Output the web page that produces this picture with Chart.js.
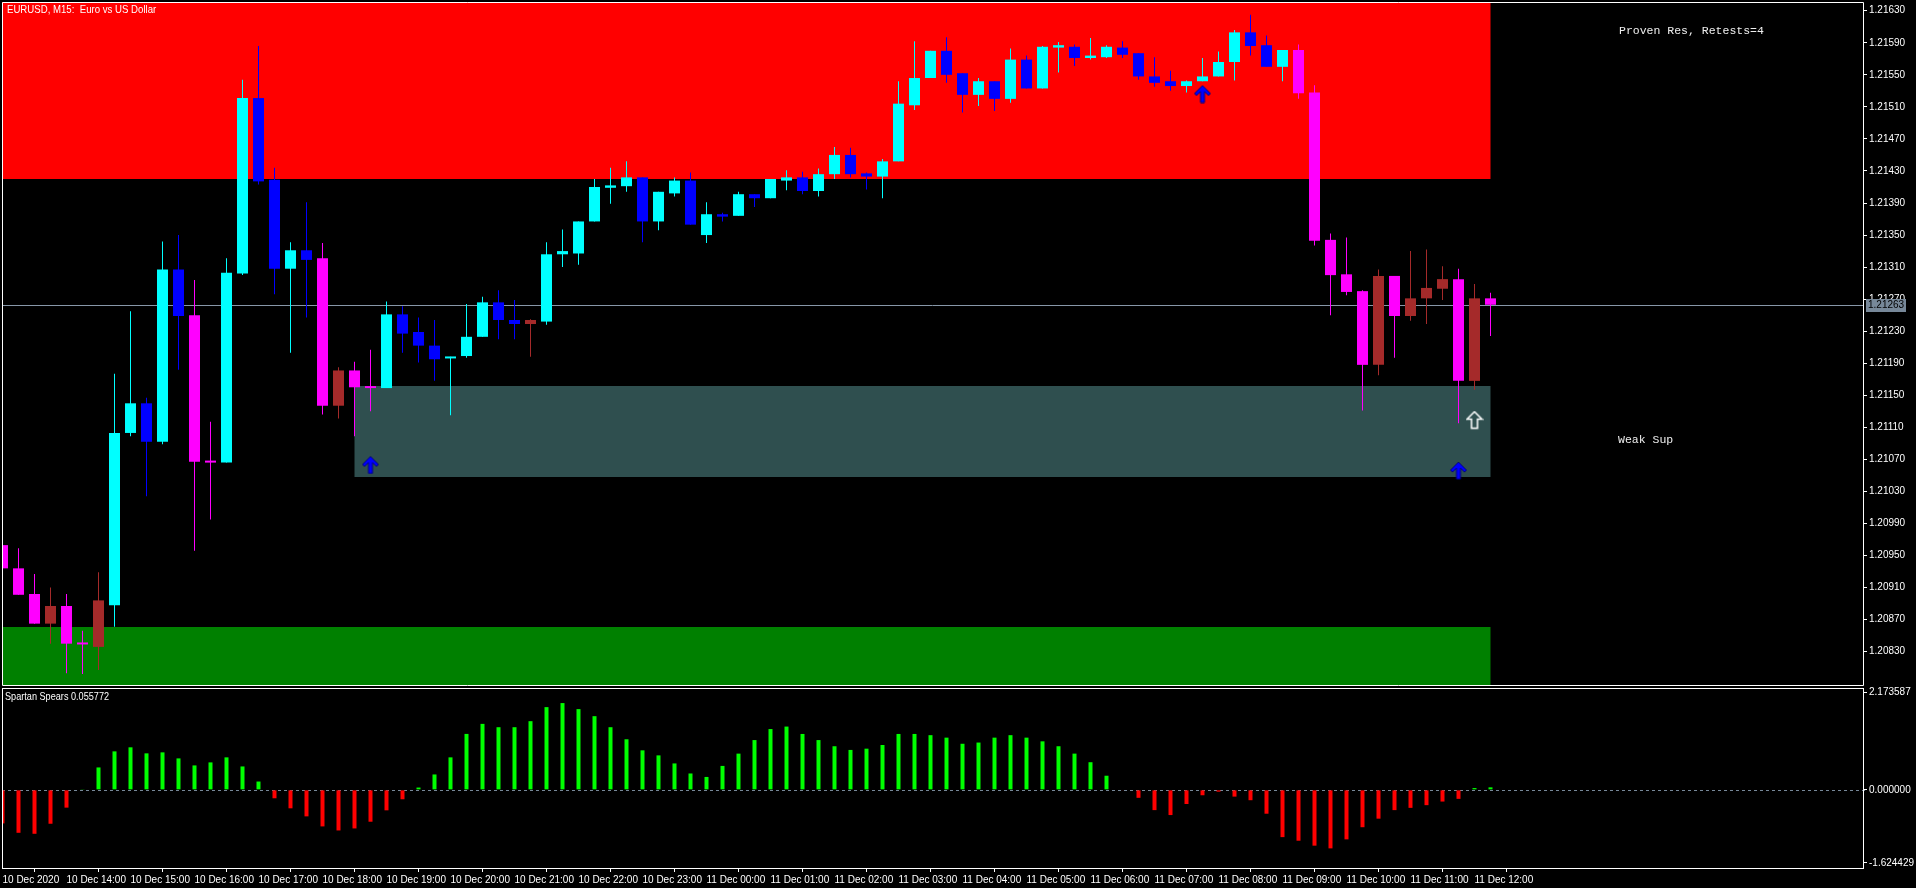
<!DOCTYPE html>
<html>
<head>
<meta charset="utf-8">
<title>EURUSD M15</title>
<script src="https://cdn.jsdelivr.net/npm/chart.js@4.4.1/dist/chart.umd.min.js"></script>
<style>
body{margin:0;background:#000;width:1916px;height:888px;overflow:hidden;position:relative;}
canvas{position:absolute;left:0;}
#main{top:0;}
#ind{top:686px;}
.lbl{position:absolute;color:#fff;font:11px "Liberation Sans",sans-serif;white-space:pre;transform-origin:0 0;}
.note{position:absolute;color:#eeeeee;font:11.5px "Liberation Mono",monospace;white-space:pre;}
</style>
</head>
<body>
<canvas id="main" width="1916" height="686"></canvas>
<canvas id="ind" width="1916" height="202"></canvas>
<div class="lbl" style="left:7px;top:3px;transform:scaleX(0.875)">EURUSD, M15:  Euro vs US Dollar</div>
<div class="lbl" style="left:5px;top:690px;transform:scaleX(0.83)">Spartan Spears 0.055772</div>
<div class="note" style="left:1619px;top:24px">Proven Res, Retests=4</div>
<div class="note" style="left:1618px;top:433px">Weak Sup</div>
<script>
// price data, one entry per M15 bar, starting 10 Dec 13:00
const opens = [
 1.20963,1.20934,1.20902,1.20865,1.20887,1.20840,1.20836,1.20888,1.21103,1.21140,
 1.21092,1.21307,1.21250,1.21067,1.21066,1.21302,1.21521,1.21419,1.21308,1.21331,
 1.21321,1.21137,1.21181,1.21160,1.21159,1.21251,1.21229,1.21212,1.21196,1.21199,
 1.21223,1.21266,1.21244,1.21239,1.21242,1.21326,1.21327,1.21367,1.21409,1.21411,
 1.21422,1.21367,1.21402,1.21418,1.21350,1.21376,1.21374,1.21401,1.21396,1.21418,
 1.21422,1.21405,1.21426,1.21450,1.21427,1.21423,1.21442,1.21512,1.21546,1.21580,
 1.21552,1.21525,1.21542,1.21520,1.21569,1.21533,1.21584,1.21585,1.21571,1.21572,
 1.21584,1.21577,1.21548,1.21542,1.21536,1.21542,1.21548,1.21566,1.21603,1.21587,
 1.21560,1.21581,1.21528,1.21344,1.21301,1.21280,1.21188,1.21299,1.21249,1.21271,
 1.21283,1.21295,1.21168,1.21271];
const highs = [
 1.20963,1.20959,1.20927,1.20910,1.20902,1.20856,1.20929,1.21177,1.21255,1.21147,
 1.21342,1.21350,1.21294,1.21117,1.21321,1.21544,1.21586,1.21434,1.21341,1.21391,
 1.21340,1.21185,1.21192,1.21207,1.21267,1.21261,1.21247,1.21244,1.21198,1.21264,
 1.21273,1.21281,1.21269,1.21245,1.21341,1.21357,1.21367,1.21420,1.21434,1.21442,
 1.21422,1.21404,1.21422,1.21428,1.21391,1.21378,1.21404,1.21401,1.21420,1.21431,
 1.21429,1.21433,1.21460,1.21459,1.21428,1.21445,1.21542,1.21592,1.21580,1.21597,
 1.21552,1.21546,1.21542,1.21583,1.21574,1.21586,1.21591,1.21588,1.21596,1.21587,
 1.21592,1.21577,1.21572,1.21555,1.21543,1.21571,1.21579,1.21606,1.21625,1.21599,
 1.21581,1.21588,1.21537,1.21352,1.21347,1.21281,1.21307,1.21299,1.21330,1.21332,
 1.21311,1.21308,1.21289,1.21278];
const lows = [
 1.20934,1.20901,1.20865,1.20840,1.20803,1.20802,1.20807,1.20861,1.21099,1.21024,
 1.21089,1.21182,1.20956,1.20995,1.21066,1.21300,1.21413,1.21276,1.21203,1.21247,
 1.21126,1.21121,1.21099,1.21130,1.21159,1.21203,1.21191,1.21168,1.21125,1.21197,
 1.21223,1.21220,1.21220,1.21198,1.21238,1.21310,1.21313,1.21367,1.21389,1.21404,
 1.21341,1.21356,1.21398,1.21363,1.21340,1.21367,1.21374,1.21385,1.21396,1.21406,
 1.21401,1.21398,1.21420,1.21422,1.21407,1.21396,1.21442,1.21506,1.21546,1.21540,
 1.21503,1.21511,1.21505,1.21515,1.21533,1.21533,1.21553,1.21561,1.21569,1.21571,
 1.21571,1.21544,1.21535,1.21530,1.21528,1.21542,1.21548,1.21543,1.21574,1.21560,
 1.21542,1.21520,1.21337,1.21250,1.21275,1.21131,1.21175,1.21197,1.21243,1.21239,
 1.21269,1.21115,1.21157,1.21224];
const closes = [
 1.20934,1.20901,1.20865,1.20887,1.20840,1.20839,1.20894,1.21103,1.21140,1.21092,
 1.21307,1.21249,1.21067,1.21066,1.21303,1.21521,1.21417,1.21308,1.21331,1.21319,
 1.21137,1.21181,1.21160,1.21159,1.21251,1.21227,1.21212,1.21195,1.21197,1.21223,
 1.21266,1.21244,1.21239,1.21244,1.21326,1.21330,1.21367,1.21410,1.21412,1.21422,
 1.21367,1.21404,1.21418,1.21363,1.21376,1.21373,1.21401,1.21396,1.21420,1.21422,
 1.21405,1.21426,1.21450,1.21426,1.21423,1.21442,1.21514,1.21546,1.21580,1.21550,
 1.21525,1.21542,1.21520,1.21569,1.21533,1.21585,1.21587,1.21571,1.21574,1.21585,
 1.21575,1.21548,1.21540,1.21536,1.21542,1.21548,1.21566,1.21603,1.21586,1.21560,
 1.21581,1.21527,1.21343,1.21300,1.21279,1.21188,1.21299,1.21249,1.21271,1.21284,
 1.21295,1.21168,1.21271,1.21263];
// trend state of the candle colouring indicator, U = up, D = down
const trend = ('DDDDDDDUUUUUDDUUUUUUDDDDUUUUUUUUUD' +
  'UUUUUUUUUUUUUUUUUUUUUUUUUUUUUUUUUUUUUUUUUUUUUUU' + 'DDDDDDDDDDDDD').split('');
// Spartan Spears histogram
const spears = [
 -0.745,-0.954,-0.976,-0.753,-0.395,0.015,0.498,0.855,0.945,0.811,
 0.833,0.699,0.543,0.610,0.722,0.520,0.185,-0.187,-0.410,-0.589,
 -0.812,-0.902,-0.857,-0.708,-0.455,-0.209,0.051,0.342,0.722,1.243,
 1.466,1.392,1.392,1.526,1.838,1.928,1.794,1.637,1.392,1.124,
 0.878,0.766,0.587,0.364,0.287,0.532,0.805,1.106,1.351,1.406,
 1.242,1.106,0.969,0.887,0.915,0.996,1.242,1.242,1.215,1.160,
 1.024,1.051,1.160,1.215,1.160,1.078,0.969,0.805,0.614,0.314,
 -0.010,-0.177,-0.450,-0.560,-0.314,-0.120,-0.040,-0.150,-0.230,-0.530,
 -1.050,-1.130,-1.240,-1.300,-1.100,-0.830,-0.640,-0.450,-0.400,-0.340,
 -0.260,-0.200,0.040,0.0558];

// supply / demand zones (bar index from, to, price top, bottom)
const zoneFrom = [-1, 22, -1];
const zoneTo = [93, 93, 93];
const zoneTop = [1.21670, 1.21161, 1.20861];
const zoneBottom = [1.21420, 1.21048, 1.20770];
const zoneColors = ['#ff0000', '#2f4f4f', '#008000'];

// signal arrows
const arrowBars = [23, 75, 91, 92];
const arrowPrices = [1.21063, 1.21526, 1.21056, 1.21119];
const arrowHollow = [false, false, false, true];

const bid = 1.21263;
const priceTicks = [1.21630,1.21590,1.21550,1.21510,1.21470,1.21430,1.21390,1.21350,1.21310,1.21270,
  1.21230,1.21190,1.21150,1.21110,1.21070,1.21030,1.20990,1.20950,1.20910,1.20870,1.20830];
const spearTicks = [2.173587, 0, -1.624429];
const timeTickBars = [0,4,8,12,16,20,24,28,32,36,40,44,48,52,56,60,64,68,72,76,80,84,88,92];
const timeTickLabels = ['10 Dec 2020','10 Dec 14:00','10 Dec 15:00','10 Dec 16:00','10 Dec 17:00',
  '10 Dec 18:00','10 Dec 19:00','10 Dec 20:00','10 Dec 21:00','10 Dec 22:00','10 Dec 23:00',
  '11 Dec 00:00','11 Dec 01:00','11 Dec 02:00','11 Dec 03:00','11 Dec 04:00','11 Dec 05:00',
  '11 Dec 06:00','11 Dec 07:00','11 Dec 08:00','11 Dec 09:00','11 Dec 10:00','11 Dec 11:00','11 Dec 12:00'];

const axisFont = {family: '"Liberation Sans",sans-serif', size: 10};
const xMin = -0.03125, xMax = 116.28125;

function candleColor(i) {
  const bull = closes[i] >= opens[i];
  if (trend[i] === 'U') return bull ? '#00ffff' : '#0000ff';
  return bull ? '#a52a2a' : '#ff00ff';
}
const colors = closes.map((c, i) => candleColor(i));

// no automatic padding from the axes, the frame is fixed
function fixBox(w, h) {
  return s => {
    if (w) s.width = w;
    if (h) s.height = h;
    s.paddingTop = 0; s.paddingBottom = 0; s.paddingLeft = 0; s.paddingRight = 0;
  };
}

// arrow icons
function makeArrow(hollow) {
  const c = document.createElement('canvas');
  c.width = 18; c.height = 19;
  const g = c.getContext('2d');
  g.beginPath();
  if (hollow) {
    g.moveTo(9, 1); g.lineTo(16.5, 8.5); g.lineTo(12, 8.5); g.lineTo(12, 17.5);
    g.lineTo(6, 17.5); g.lineTo(6, 8.5); g.lineTo(1.5, 8.5); g.closePath();
    g.strokeStyle = '#ffffff'; g.lineWidth = 1.5; g.stroke();
  } else {
    g.moveTo(9, 1); g.lineTo(17, 9); g.lineTo(15, 11); g.lineTo(11, 7); g.lineTo(11, 18);
    g.lineTo(7, 18); g.lineTo(7, 7); g.lineTo(3, 11); g.lineTo(1, 9); g.closePath();
    g.fillStyle = '#0000ff'; g.fill();
    g.strokeStyle = '#000080'; g.lineWidth = 1; g.stroke();
  }
  return c;
}
const blueArrow = makeArrow(false);
const whiteArrow = makeArrow(true);

// zones, bid line, frame and bid label
const mainDecor = {
  id: 'mainDecor',
  beforeDatasetsDraw(chart) {
    const {ctx, chartArea: a, scales: {x, y}} = chart;
    ctx.save();
    ctx.beginPath(); ctx.rect(a.left, a.top, a.width, a.height); ctx.clip();
    zoneTop.forEach((top, k) => {
      const x0 = Math.max(a.left, x.getPixelForValue(zoneFrom[k]));
      const x1 = x.getPixelForValue(zoneTo[k]);
      const y0 = y.getPixelForValue(top), y1 = y.getPixelForValue(zoneBottom[k]);
      ctx.fillStyle = zoneColors[k];
      ctx.fillRect(x0, Math.round(y0), x1 - x0, Math.round(y1) - Math.round(y0));
    });
    const by = Math.round(y.getPixelForValue(bid)) + 0.5;
    ctx.strokeStyle = '#8797a8'; ctx.lineWidth = 1;
    ctx.beginPath(); ctx.moveTo(a.left, by); ctx.lineTo(a.right, by); ctx.stroke();
    ctx.restore();
  },
  afterDraw(chart) {
    const {ctx, chartArea: a, scales: {y}} = chart;
    ctx.save();
    ctx.strokeStyle = '#ffffff'; ctx.lineWidth = 1;
    ctx.beginPath();
    ctx.moveTo(a.left + 0.5, a.bottom + 0.5); ctx.lineTo(a.left + 0.5, a.top + 0.5);
    ctx.lineTo(a.right + 0.5, a.top + 0.5); ctx.lineTo(a.right + 0.5, a.bottom + 0.5);
    ctx.lineTo(a.left + 0.5, a.bottom + 0.5);
    ctx.stroke();
    const by = Math.round(y.getPixelForValue(bid));
    ctx.fillStyle = '#778899';
    ctx.fillRect(a.right + 3, by - 6, 40, 13);
    ctx.fillStyle = '#000000';
    ctx.font = '10px ' + axisFont.family;
    ctx.textBaseline = 'middle';
    ctx.fillText(bid.toFixed(5), a.right + 5, by + 0.5);
    ctx.restore();
  }
};

new Chart(document.getElementById('main'), {
  type: 'bar',
  data: {
    datasets: [
      {
        type: 'scatter',
        data: arrowBars.map((b, k) => ({x: b, y: arrowPrices[k]})),
        pointStyle: ctx => arrowHollow[ctx.dataIndex] ? whiteArrow : blueArrow,
        order: 0
      },
      {
        data: opens.map((o, i) => ({x: i, y: [o, closes[i]]})),
        backgroundColor: colors,
        barThickness: 11,
        minBarLength: 2,
        grouped: false,
        inflateAmount: 0,
        borderWidth: 0,
        order: 1
      },
      {
        data: lows.map((l, i) => ({x: i, y: [l, highs[i]]})),
        backgroundColor: colors,
        barThickness: 1,
        grouped: false,
        inflateAmount: 0,
        borderWidth: 0,
        order: 2
      }
    ]
  },
  options: {
    responsive: false,
    animation: false,
    events: [],
    layout: {autoPadding: false, padding: {left: 2, top: 2, bottom: 1, right: 0}},
    plugins: {legend: {display: false}, tooltip: {enabled: false}},
    scales: {
      x: {type: 'linear', min: xMin, max: xMax, display: false, offset: false},
      y: {
        position: 'right',
        min: 1.207884, max: 1.216409,
        afterFit: fixBox(53, 0),
        afterBuildTicks: s => { s.ticks = priceTicks.map(v => ({value: v})); },
        grid: {drawOnChartArea: false, color: '#ffffff', tickLength: 4},
        border: {display: false},
        ticks: {color: '#ffffff', padding: 2, autoSkip: false, font: axisFont, callback: v => v.toFixed(5)}
      }
    }
  },
  plugins: [mainDecor]
});

// indicator window
const indDecor = {
  id: 'indDecor',
  beforeDatasetsDraw(chart) {
    const {ctx, chartArea: a, scales: {y}} = chart;
    const zy = Math.round(y.getPixelForValue(0)) + 0.5;
    ctx.save();
    ctx.strokeStyle = '#778899'; ctx.lineWidth = 1; ctx.setLineDash([3, 3]);
    ctx.beginPath(); ctx.moveTo(a.left, zy); ctx.lineTo(a.right + 4, zy); ctx.stroke();
    ctx.restore();
  },
  afterDraw(chart) {
    const {ctx, chartArea: a} = chart;
    ctx.save();
    ctx.strokeStyle = '#ffffff'; ctx.lineWidth = 1;
    ctx.strokeRect(a.left + 0.5, a.top + 0.5, a.width, a.height);
    ctx.restore();
  }
};

new Chart(document.getElementById('ind'), {
  type: 'bar',
  data: {
    datasets: [{
      data: spears.map((v, i) => ({x: i, y: v})),
      backgroundColor: ctx => (ctx.raw && ctx.raw.y < 0) ? '#ff0000' : '#00ff00',
      barThickness: 4,
      grouped: false,
      inflateAmount: 0,
      borderWidth: 0
    }]
  },
  options: {
    responsive: false,
    animation: false,
    events: [],
    layout: {autoPadding: false, padding: {left: 2, top: 2, bottom: 0, right: 0}},
    plugins: {legend: {display: false}, tooltip: {enabled: false}},
    scales: {
      x: {
        type: 'linear', min: xMin, max: xMax, offset: false,
        afterFit: fixBox(0, 20),
        afterBuildTicks: s => { s.ticks = timeTickBars.map(v => ({value: v})); },
        grid: {drawOnChartArea: false, color: '#ffffff', tickLength: 4},
        border: {display: false},
        ticks: {
          color: '#ffffff', padding: 2, align: 'start', autoSkip: false, maxRotation: 0, minRotation: 0,
          font: axisFont, callback: (v, idx) => timeTickLabels[idx]
        }
      },
      y: {
        position: 'right',
        min: -1.7361, max: 2.2629,
        afterFit: fixBox(53, 0),
        afterBuildTicks: s => { s.ticks = spearTicks.map(v => ({value: v})); },
        grid: {drawOnChartArea: false, color: '#ffffff', tickLength: 4},
        border: {display: false},
        ticks: {color: '#ffffff', padding: 2, autoSkip: false, font: axisFont, callback: v => v.toFixed(6)}
      }
    }
  },
  plugins: [indDecor]
});
</script>
</body>
</html>
